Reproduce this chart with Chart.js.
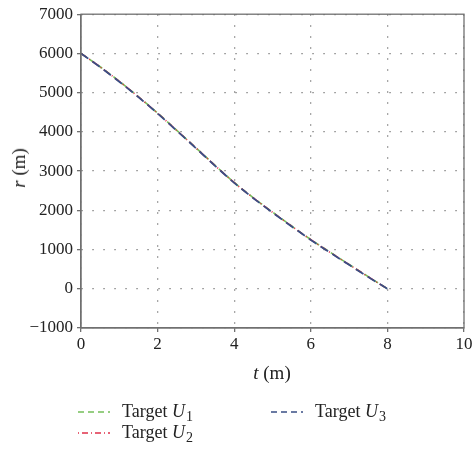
<!DOCTYPE html>
<html>
<head>
<meta charset="utf-8">
<script src="https://cdn.jsdelivr.net/npm/chart.js@4/dist/chart.umd.min.js"></script>
<style>
  body { margin: 0; background: #fff; font-family: "Liberation Serif", "DejaVu Serif", serif; }
  #wrap { position: relative; width: 474px; height: 453px; }
  #mycanvas { position: absolute; left: 0; top: 0; }
  .lbl { position: absolute; font-size: 19px; color: #222; white-space: nowrap; }
  .ytitle { left: 19px; top: 168px; transform: translate(-50%, -50%) rotate(-90deg); }
  .xtitle { left: 272px; top: 373px; transform: translate(-50%, -50%); }
  .leg { position: absolute; font-size: 18px; color: #222; white-space: nowrap; display: flex; align-items: center; }
  .leg svg { margin-right: 12px; }
  i { font-style: italic; }
  .s { font-size: 14px; position: relative; top: 5px; margin-left: 1px; }
</style>
</head>
<body>
<div id="wrap">
  <canvas id="mycanvas" width="474" height="453"></canvas>
  <div class="lbl ytitle"><i>r</i> (m)</div>
  <div class="lbl xtitle"><i>t</i> (m)</div>
  <div class="leg" style="left:78px; top:401px;">
    <svg width="32" height="4"><line x1="0" y1="2" x2="32" y2="2" stroke="#74bf5a" stroke-width="1.5" stroke-dasharray="6,4"/></svg>
    Target&nbsp;<i>U</i><span class="s">1</span>
  </div>
  <div class="leg" style="left:78px; top:422px;">
    <svg width="32" height="4"><line x1="0" y1="2" x2="32" y2="2" stroke="#e0304a" stroke-width="1.5" stroke-dasharray="1,3,6,3"/></svg>
    Target&nbsp;<i>U</i><span class="s">2</span>
  </div>
  <div class="leg" style="left:271px; top:401px;">
    <svg width="32" height="4"><line x1="0" y1="2" x2="32" y2="2" stroke="#3a4f85" stroke-width="1.5" stroke-dasharray="6,4"/></svg>
    Target&nbsp;<i>U</i><span class="s">3</span>
  </div>
</div>
<script>
// time (m) and range (m)
var tVals = [0, 0.5, 1, 1.5, 2, 2.5, 3, 3.5, 4, 4.5, 5, 5.5, 6, 6.5, 7, 7.5, 8];
var rU1 = [6000, 5660, 5290, 4895, 4480, 4040, 3595, 3145, 2710, 2320, 1955, 1600, 1255, 935, 620, 310, 0];
var rU2 = [6000, 5655, 5285, 4890, 4475, 4035, 3590, 3140, 2705, 2315, 1950, 1595, 1250, 930, 615, 305, 0];
var rU3 = [6000, 5650, 5280, 4885, 4470, 4030, 3585, 3135, 2700, 2310, 1945, 1590, 1245, 925, 610, 300, 0];
var xTicks = [0, 2, 4, 6, 8, 10];
var yTicks = [-1000, 0, 1000, 2000, 3000, 4000, 5000, 6000, 7000];

function pts(ys) {
    var out = [];
    for (var i in tVals) {
        out.push({ x: tVals[i], y: ys[i] });
    }
    return out;
}

var frame = {
    id: 'frame',
    afterDraw: function(chart) {
        var a = chart.chartArea, c = chart.ctx;
        c.save();
        c.strokeStyle = '#707070';
        c.lineWidth = 1.3;
        c.strokeRect(a.left, a.top, a.right - a.left, a.bottom - a.top);
        c.restore();
    }
};

var gridOpts = {
    color: '#8a8a8a',
    lineWidth: 1.3,
    drawTicks: true,
    tickLength: 4,
    tickColor: '#707070',
    tickBorderDash: [],
    tickWidth: 1.3
};

var ctx = document.getElementById('mycanvas');
new Chart(ctx, {
    type: 'line',
    data: {
        datasets: [{
            label: 'Target U1',
            data: pts(rU1),
            borderColor: '#74bf5a',
            borderWidth: 1.6,
            borderDash: [6, 4],
            pointRadius: 0,
            cubicInterpolationMode: 'monotone',
            fill: false,
            order: 2
        }, {
            label: 'Target U2',
            data: pts(rU2),
            borderColor: '#e0304a',
            borderWidth: 1.6,
            borderDash: [7, 3, 1, 3],
            pointRadius: 0,
            cubicInterpolationMode: 'monotone',
            fill: false,
            order: 1
        }, {
            label: 'Target U3',
            data: pts(rU3),
            borderColor: '#3a4f85',
            borderWidth: 1.8,
            borderDash: [9, 5],
            pointRadius: 0,
            cubicInterpolationMode: 'monotone',
            fill: false,
            order: 0
        }]
    },
    options: {
        responsive: false,
        animation: false,
        layout: { padding: { top: 10, right: 10, left: 0, bottom: 0 } },
        plugins: { legend: { display: false }, tooltip: { enabled: false } },
        scales: {
            x: {
                type: 'linear',
                min: 0, max: 10,
                afterBuildTicks: function(s) { s.ticks = xTicks.map(function(v) { return { value: v }; }); },
                afterFit: function(s) { s.height = 125; s.paddingRight = 0; s.paddingLeft = 0; },
                ticks: { color: '#222', font: { family: 'Liberation Serif', size: 17 }, padding: 2, maxRotation: 0 },
                grid: gridOpts,
                border: { display: true, color: '#707070', width: 1.3, dash: [1.5, 9.5] }
            },
            y: {
                min: -1000, max: 7000,
                afterBuildTicks: function(s) { s.ticks = yTicks.map(function(v) { return { value: v }; }); },
                afterFit: function(s) { s.width = 81; },
                ticks: {
                    color: '#222',
                    font: { family: 'Liberation Serif', size: 17 },
                    padding: 4,
                    callback: function(v) { return v < 0 ? '\u2212' + Math.abs(v) : '' + v; }
                },
                grid: gridOpts,
                border: { display: true, color: '#707070', width: 1.3, dash: [1.5, 9.5] }
            }
        }
    },
    plugins: [frame]
});
</script>
</body>
</html>
